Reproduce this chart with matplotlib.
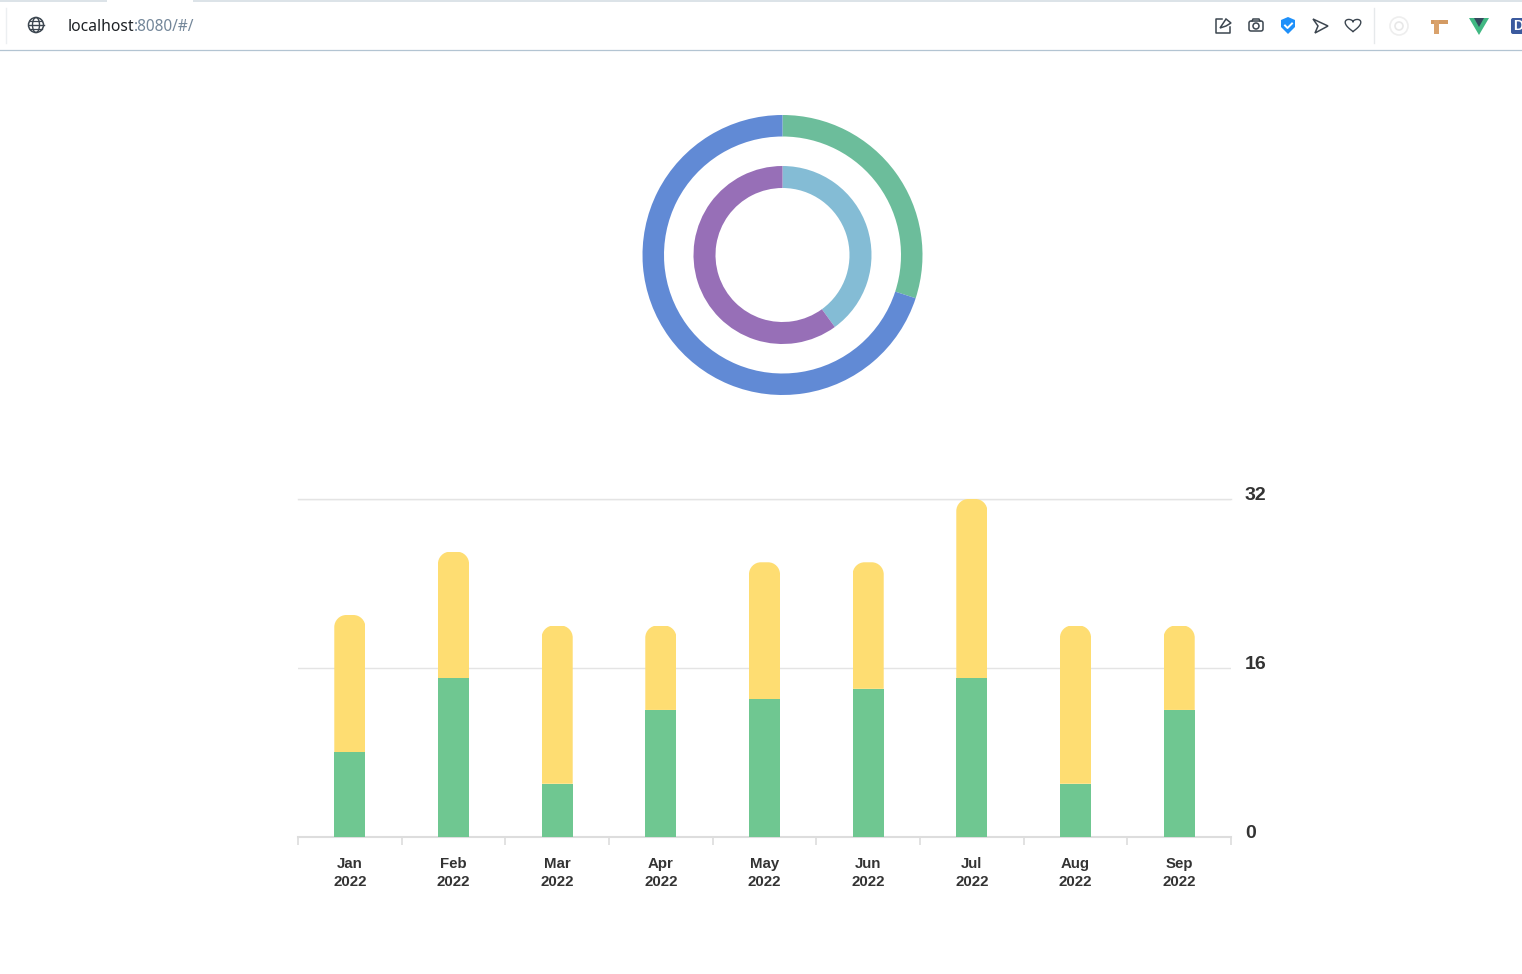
import numpy as np
import matplotlib
matplotlib.use('Agg')
import matplotlib.pyplot as plt
from matplotlib.path import Path
from matplotlib.patches import PathPatch, Rectangle, Circle, Polygon, Ellipse, FancyBboxPatch

months = ['Jan', 'Feb', 'Mar', 'Apr', 'May', 'Jun', 'Jul', 'Aug', 'Sep']
year = '2022'
green_values = [8, 15, 5, 12, 13, 14, 15, 5, 12]
yellow_values = [13, 12, 15, 8, 13, 12, 17, 15, 8]
y_ticks = [0, 16, 32]
outer_ring = [30, 70]
inner_ring = [40, 60]

W, H = 1522, 974
GREEN = '#6fc791'
YELLOW = '#fedd72'


def px_axes(fig, left, top, right, bottom):
    return fig.add_axes([left / W, 1 - bottom / H, (right - left) / W, (bottom - top) / H])


def rounded_top(x, y0, y1, w, rx, ry):
    # cubic corners, closer to a css border radius than quadratic ones
    l, r = x - w / 2, x + w / 2
    k = 0.45
    verts = [(l, y0), (l, y1 - ry),
             (l, y1 - ry * k), (l + rx * k, y1), (l + rx, y1),
             (r - rx, y1),
             (r - rx * k, y1), (r, y1 - ry * k), (r, y1 - ry),
             (r, y0), (l, y0)]
    codes = [Path.MOVETO, Path.LINETO,
             Path.CURVE4, Path.CURVE4, Path.CURVE4,
             Path.LINETO,
             Path.CURVE4, Path.CURVE4, Path.CURVE4,
             Path.LINETO, Path.CLOSEPOLY]
    return Path(verts, codes)


fig = plt.figure(figsize=(W / 100, H / 100), dpi=100, facecolor='white')

# browser bar
chrome = fig.add_axes([0, 0, 1, 1], zorder=5)
chrome.set_xlim(0, W)
chrome.set_ylim(H, 0)
chrome.axis('off')
chrome.add_patch(Rectangle((0, 0), W, 2, color='#dce3e8', lw=0))
chrome.add_patch(Rectangle((107, 0), 86, 2, color='white', lw=0))
chrome.plot([0, W], [50.2, 50.2], color='#b3c4d2', lw=0.9)
chrome.plot([5.5, 5.5], [8, 43], color='#eceff1', lw=1)
chrome.plot([1373.5, 1373.5], [8, 43], color='#e6e9eb', lw=1)

# globe
ic = '#3c4650'
chrome.add_patch(Circle((36, 25), 7.5, fill=False, ec=ic, lw=1.1))
chrome.add_patch(Ellipse((36, 25), 7, 15, fill=False, ec=ic, lw=1))
chrome.plot([28.5, 43.5], [25, 25], color=ic, lw=1)
chrome.plot([30, 42], [21, 21], color=ic, lw=0.9)
chrome.plot([30, 42], [29, 29], color=ic, lw=0.9)

chrome.text(68, 27, 'localhost', family='Noto Sans', fontsize=11.3, color='#1d2125', va='center')
chrome.text(133.5, 27, ':8080/#/', family='Noto Sans', fontsize=11.1, color='#74879a', va='center')

# toolbar icons
chrome.plot([1222, 1216, 1216, 1230, 1230], [19, 19, 33, 33, 27], color=ic, lw=1.1)
chrome.add_patch(Polygon([(1220, 28), (1226, 19), (1231, 23), (1226, 26)], closed=True, fill=False, ec=ic, lw=1.1))
chrome.add_patch(FancyBboxPatch((1249, 21), 14, 10, boxstyle='round,pad=0,rounding_size=2',
                                fill=False, ec=ic, lw=1.1))
chrome.plot([1252, 1253, 1259, 1260], [21, 19, 19, 21], color=ic, lw=1.1)
chrome.add_patch(Circle((1256, 26), 3, fill=False, ec=ic, lw=1.1))
chrome.add_patch(Polygon([(1281, 20), (1288, 17), (1295, 20), (1295, 27), (1288, 34), (1281, 27)],
                         closed=True, color='#1e90fa', lw=0))
chrome.plot([1285, 1287.5, 1292], [25.5, 28, 23.5], color='white', lw=1.4)
chrome.add_patch(Polygon([(1313, 19), (1328, 26), (1315, 33), (1318, 26)], closed=True, fill=False, ec=ic, lw=1.1))
th = np.linspace(0, 2 * np.pi, 80)
chrome.plot(1353 + 7.8 * np.sin(th) ** 3, 24.5 - (6 * np.cos(th) - 2.2 * np.cos(2 * th) - 0.9 * np.cos(3 * th)),
            color=ic, lw=1.0)
chrome.add_patch(Circle((1399, 26), 9, fill=False, ec='#eeeeee', lw=1.2))
chrome.add_patch(Circle((1399, 26), 4, fill=False, ec='#e8e8e8', lw=1.2))
chrome.add_patch(Rectangle((1431, 20), 17, 4, color='#d39a63', lw=0))
chrome.add_patch(Rectangle((1434, 20), 5, 14, color='#d9a26c', lw=0))
chrome.add_patch(Polygon([(1469, 18), (1489, 18), (1479, 35)], closed=True, color='#41b883', lw=0))
chrome.add_patch(Polygon([(1474, 18), (1484, 18), (1479, 27)], closed=True, color='#35495e', lw=0))
chrome.add_patch(FancyBboxPatch((1511, 18), 14, 16, boxstyle='round,pad=0,rounding_size=2',
                                color='#3b5a9e', lw=0))
chrome.text(1513, 26.5, 'D', family='Liberation Sans', fontweight='bold', fontsize=10, color='white', va='center')

# donut rings
donut = px_axes(fig, 642.5, 115, 922.5, 395)
donut.pie(outer_ring, radius=1, startangle=90, counterclock=False, colors=['#6cbd9b', '#618ad5'],
          wedgeprops={'width': 21.5 / 140, 'linewidth': 0})
donut.pie(inner_ring, radius=89 / 140, startangle=90, counterclock=False, colors=['#84bcd5', '#976fb7'],
          wedgeprops={'width': 22 / 140, 'linewidth': 0})
donut.set_xlim(-1, 1)
donut.set_ylim(-1, 1)

# stacked bars
ax = px_axes(fig, 298, 499, 1231, 836.5)
x = np.arange(len(months))
bar_w = 0.3
ax.bar(x, green_values, width=bar_w, color=GREEN, zorder=3, linewidth=0)
tops = ax.bar(x, yellow_values, width=bar_w, bottom=green_values, color=YELLOW, zorder=3, linewidth=0)
for xi, g, y, rect in zip(x, green_values, yellow_values, tops):
    clip = PathPatch(rounded_top(xi, g, g + y, bar_w, 0.115, 1.15), transform=ax.transData)
    rect.set_clip_path(clip)

ax.set_xlim(-0.495, len(months) - 0.505)
ax.set_ylim(0, 32)
for s in ['top', 'left', 'right']:
    ax.spines[s].set_visible(False)
ax.spines['bottom'].set_color('#dddddd')
ax.spines['bottom'].set_linewidth(1.5)
ax.set_yticks(y_ticks[1:])
ax.set_yticklabels([])
ax.tick_params(axis='y', length=0)
ax.grid(axis='y', color='#e4e4e4', lw=1.0, zorder=0)
ax.axhline(32, color='#e4e4e4', lw=1.0, zorder=0, clip_on=False)

ax.set_xticks(x)
ax.set_xticklabels([m + '\n' + year for m in months], family='Liberation Sans', fontweight='bold',
                   fontsize=10.8, color='#333333', linespacing=1.33)
ax.tick_params(axis='x', length=0, pad=14.7)
ax.set_xticks(np.arange(-0.5, len(months)), minor=True)
ax.tick_params(axis='x', which='minor', length=6, width=1.2, color='#dddddd')

for v in y_ticks:
    ax.annotate(str(v), xy=(1, v), xycoords=('axes fraction', 'data'), xytext=(14, 3), textcoords='offset pixels',
                family='Liberation Sans', fontweight='bold', fontsize=14, color='#333333', ha='left', va='center',
                annotation_clip=False)

fig.savefig('out.png', dpi=100)
